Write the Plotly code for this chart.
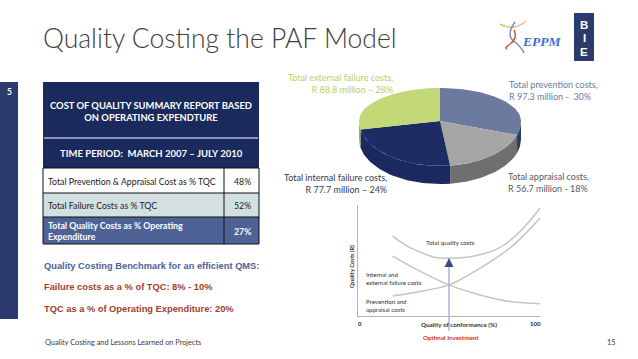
import math
import plotly.graph_objects as go

NAVY = "#1b2a5c"
BAND = "#2c3b6e"
MID = "#4f6296"
FONT = "Lato"

# Pie
pie_labels = ["Total prevention costs", "Total appraisal costs", "Total internal failure costs", "Total external failure costs"]
pie_shares = [30, 18, 24, 28]
pie_top = ["#6d7a9f", "#a6a6a6", "#1d2d64", "#c3d978"]
pie_side = ["#2a3a70", "#6f6f6f", "#1a2a5e", "#a0b060"]

# Cost curves
total_x = [19, 27, 35, 42, 50, 60, 69, 76, 82, 87, 94, 100]
total_y = [72, 63, 57, 53, 52, 53, 56, 60, 66, 73, 85, 97]
failure_x = [19, 34, 50, 67, 84, 100]
failure_y = [54, 40.5, 28, 19, 13, 11]
prevention_x = [19, 34, 50, 67, 84, 100]
prevention_y = [18, 22, 28, 43, 62, 88]

# Table
table_rows = ["Total Prevention &amp; Appraisal Cost as % TQC", "Total Failure Costs as % TQC",
              "<b>Total Quality Costs as % Operating<br>Expenditure</b>"]
table_vals = ["48%", "52%", "<b>27%</b>"]

W, H = 638, 359
fig = go.Figure()


def pt(t, drop=0):
    cx, cy, a, up, down = 440, 121, 81, 33, 45
    c = math.cos(t)
    return cx + a * math.sin(t), cy - (up if c > 0 else down) * c + drop


# rim
DEPTH = 18
cum = 0
for share, col in zip(pie_shares, pie_side):
    t0, t1 = cum / 100 * 2 * math.pi, (cum + share) / 100 * 2 * math.pi
    cum += share
    lo, hi = max(t0, math.pi / 2), min(t1, 3 * math.pi / 2)
    if lo >= hi:
        continue
    ts = [lo + (hi - lo) * i / 40 for i in range(41)]
    top = [pt(t) for t in ts]
    bot = [pt(t, DEPTH) for t in reversed(ts)]
    poly = top + bot + [top[0]]
    fig.add_trace(go.Scatter(x=[p[0] for p in poly], y=[p[1] for p in poly], fill="toself",
                             fillcolor=col, mode="lines", line=dict(width=0), hoverinfo="skip", showlegend=False))
# faces
cum = 0
for share, col, name in zip(pie_shares, pie_top, pie_labels):
    t0, t1 = cum / 100 * 2 * math.pi, (cum + share) / 100 * 2 * math.pi
    cum += share
    ts = [t0 + (t1 - t0) * i / 60 for i in range(61)]
    poly = [(440, 121)] + [pt(t) for t in ts] + [(440, 121)]
    fig.add_trace(go.Scatter(x=[p[0] for p in poly], y=[p[1] for p in poly], fill="toself", name=name,
                             fillcolor=col, mode="lines", line=dict(width=0), showlegend=False))

# curves on own axes
CURVE = "#c4c4c4"
for xs, ys in [(total_x, total_y), (failure_x, failure_y), (prevention_x, prevention_y)]:
    fig.add_trace(go.Scatter(x=xs, y=ys, xaxis="x2", yaxis="y2", mode="lines",
                             line=dict(color=CURVE, width=1.5, shape="spline", smoothing=1.0), showlegend=False))

shapes = []


def rect(x0, y0, x1, y1, fill, line=None, w=0):
    shapes.append(dict(type="rect", x0=x0, y0=y0, x1=x1, y1=y1, xref="x", yref="y", fillcolor=fill,
                       line=dict(color=line or fill, width=w), layer="below"))


def hline(x0, y0, x1, y1, col, w=1):
    shapes.append(dict(type="line", x0=x0, y0=y0, x1=x1, y1=y1, xref="x", yref="y", line=dict(color=col, width=w)))


rect(0, 82, 18, 319, BAND)
rect(43, 82, 259, 168, NAVY)
rect(43, 168, 259, 193, "#ffffff")
rect(43, 193, 259, 217, "#d2dfe3")
rect(43, 217, 259, 244, MID)
hline(44, 138, 258, 138, "#ffffff", 1)
for y in (168, 193, 217, 244):
    hline(43, y, 259, y, "#111111", 1)
hline(43, 168, 43, 244, "#111111", 1)
hline(259, 168, 259, 244, "#111111", 1)
hline(224, 168, 224, 244, "#111111", 1)

# logo BIE
rect(574, 13, 594, 61, BAND)
# logo EPPM figure
shapes.append(dict(type="path", path="M 500 24 Q 513 32 526 21", xref="x", yref="y", line=dict(color="#e8c070", width=1.5)))
shapes.append(dict(type="path", path="M 515 22 Q 505 36 515 42 Q 522 48 524 53", xref="x", yref="y", line=dict(color="#6f8fd0", width=1.5)))
shapes.append(dict(type="path", path="M 514 30 Q 518 38 510 44 Q 504 48 507 49", xref="x", yref="y", line=dict(color="#d9533f", width=1.5)))

# arrow stem
hline(449, 331, 449, 262, "#a9b4d6", 1.5)

ann = []


def text(x, y, s, size, color="#333333", anchor="left", font=FONT, angle=0, weight=None):
    f = dict(size=size, color=color, family=font)
    if weight:
        f["weight"] = weight
    ann.append(dict(x=x, y=y, xref="x", yref="y", text=s, showarrow=False, xanchor=anchor, yanchor="middle",
                    align=anchor, textangle=angle, borderpad=0, font=f))


text(42, 38, "Quality Costing the PAF Model", 26.5, "#404040", weight=300)
text(9, 92, "<b>5</b>", 8.5, "#ffffff", "center")
text(151, 111, "<b>COST OF QUALITY SUMMARY REPORT BASED<br>ON OPERATING EXPENDTURE</b>", 9.4, "#ffffff", "center")
text(151, 153, "<b>TIME PERIOD:  MARCH 2007 – JULY 2010</b>", 9.5, "#ffffff", "center")
rows_y = [181, 205, 231]
cols = ["#222222", "#222222", "#ffffff"]
for lab, val, y, c in zip(table_rows, table_vals, rows_y, cols):
    text(47, y, lab, 8.75, c)
    text(242, y, val, 8.75, c, "center")
ARIAL = "Liberation Sans"
text(43, 266, "<b>Quality Costing Benchmark for an efficient QMS:</b>", 9.3, "#4f6296", font=ARIAL)
text(43, 287, "<b>Failure costs as a % of TQC: 8% - 10%</b>", 9.3, "#a2402f", font=ARIAL)
text(43, 309, "<b>TQC as a % of Operating Expenditure: 20%</b>", 9.3, "#a2402f", font=ARIAL)
text(44, 342, "Quality Costing and Lessons Learned on Projects", 7.35, "#404040")
text(606, 342, "15", 7.35, "#404040")

text(394, 83, "Total external failure costs,<br>R 88.8 million – 28%", 9, "#b7cf6a", "right")
text(508, 90, "Total prevention costs,<br>R 97.3 million -  30%", 9, "#6d7a9f")
text(388, 183, "Total internal failure costs,<br>R 77.7 million – 24%", 9, "#333a55", "right")
text(507, 182, "Total appraisal costs,<br>R 56.7 million - 18%", 9, "#555a6a")

text(425, 242, "Total quality costs", 6.2, "#333333")
text(365, 278, "Internal and<br>external failure costs", 6.1, "#333333")
text(365, 305, "Prevention and<br>appraisal costs", 6.1, "#333333")
text(351, 267, "<b>Quality Costs (R)</b>", 5.8, "#333333", "center", angle=-90)
text(360, 323, "<b>0</b>", 6, "#222222", "center")
text(535, 323, "<b>100</b>", 6, "#222222", "center")
text(459, 324, "<b>Quality of conformance (%)</b>", 6.3, "#333333", "center")
text(451, 337, "<b>Optimal Investment</b>", 6.3, "#d8302a", "center")
text(521, 41, "<b><i>EPPM</i></b>", 13.5, "#3f6fd0", font="Liberation Serif")
text(584, 24.5, "<b>B</b>", 11.5, "#ffffff", "center", font=ARIAL)
text(584, 38, "<b>I</b>", 11.5, "#ffffff", "center", font=ARIAL)
text(584, 51.5, "<b>E</b>", 11.5, "#ffffff", "center", font=ARIAL)

# arrow head
ann.append(dict(x=449, y=258, ax=449, ay=268, xref="x", yref="y", axref="x", ayref="y", text="", showarrow=True,
                arrowhead=2, arrowsize=1.2, arrowwidth=1.5, arrowcolor="#3a4a8a"))

fig.update_layout(
    width=W, height=H, autosize=False, margin=dict(l=0, r=0, t=0, b=0), paper_bgcolor="white", plot_bgcolor="rgba(0,0,0,0)",
    showlegend=False, shapes=shapes, annotations=ann,
    xaxis=dict(range=[0, W], domain=[0, 1], visible=False, fixedrange=True),
    yaxis=dict(range=[H, 0], domain=[0, 1], visible=False, fixedrange=True),
    xaxis2=dict(range=[0, 100], domain=[358 / W, 540 / W], anchor="y2", showgrid=False, zeroline=False, showticklabels=False,
                ticks="", showline=True, linecolor="#b5b5b5", linewidth=1),
    yaxis2=dict(range=[0, 100], domain=[1 - 316 / H, 1 - 205 / H], anchor="x2", showgrid=False, zeroline=False, showticklabels=False,
                ticks="", showline=True, linecolor="#b5b5b5", linewidth=1),
)
fig.write_html("out.html", config=dict(displayModeBar=False),
               post_script="document.body.style.margin='0';document.body.style.overflow='hidden';")
